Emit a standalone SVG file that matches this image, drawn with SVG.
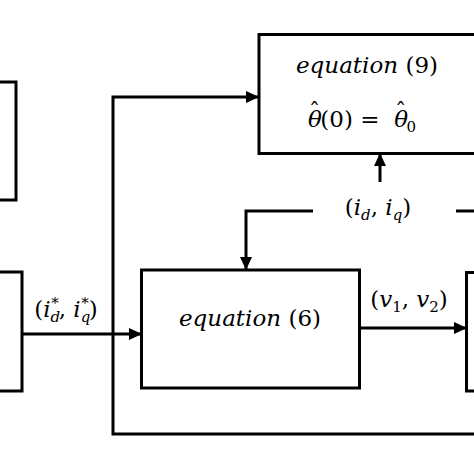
<svg xmlns="http://www.w3.org/2000/svg" width="474" height="474" viewBox="0 0 474 474">
<defs>
<marker id="ah" viewBox="0 0 13 12" markerWidth="13" markerHeight="12" refX="12" refY="6" orient="auto" markerUnits="userSpaceOnUse">
<path d="M0,0 L13,6 L0,12 z" fill="#000"/>
</marker>
</defs>
<style>
.box{fill:#fff;stroke:#000;stroke-width:3}
.ln{fill:none;stroke:#000;stroke-width:3}
.arr{marker-end:url(#ah)}
text{font-family:"DejaVu Serif","Liberation Serif",serif;font-size:23px;fill:#000}
.it{font-style:italic}
.sub{font-size:15px}
</style>
<rect width="474" height="474" fill="#fff"/>
<g id="connectors">
<path class="ln arr" d="M22,334 H141"/>
<path class="ln arr" d="M476,434 H113 V97 H258"/>
<path class="ln arr" d="M380,182 V154"/>
<path class="ln arr" d="M313,211 H246 V269"/>
<path class="ln" d="M456,211 H476"/>
<path class="ln arr" d="M359,328 H466"/>
</g>
<g id="node-left-top"><rect class="box" x="-10" y="82" width="26" height="118"/></g>
<g id="node-left-bottom"><rect class="box" x="-10" y="272" width="32" height="119"/></g>
<g id="node-eq9">
<rect class="box" x="259" y="34.5" width="230" height="119"/>
<text x="367" y="73" text-anchor="middle"><tspan class="it">equation</tspan> (9)</text>
<text x="308" y="127"><tspan class="it">θ</tspan><tspan dx="-13" dy="-8">ˆ</tspan><tspan dy="8">(0) =&#160; </tspan><tspan class="it">θ</tspan><tspan dx="-13" dy="-8">ˆ</tspan><tspan class="sub" dy="13">0</tspan></text>
</g>
<g id="node-eq6">
<rect class="box" x="141.5" y="270" width="218" height="118"/>
<text x="250" y="326" text-anchor="middle"><tspan class="it">equation</tspan> (6)</text>
</g>
<g id="node-right"><rect class="box" x="466.5" y="272.5" width="30" height="118.5"/></g>
<g id="labels">
<text x="378" y="215" text-anchor="middle">(<tspan class="it">i</tspan><tspan class="sub it" dy="5">d</tspan><tspan dy="-5">, </tspan><tspan class="it">i</tspan><tspan class="sub it" dy="5">q</tspan><tspan dy="-5">)</tspan></text>
<text x="66" y="317" text-anchor="middle">(<tspan class="it">i</tspan><tspan class="sub it" dy="5">d</tspan><tspan class="sub" dx="-9" dy="-14">*</tspan><tspan dy="9">, </tspan><tspan class="it">i</tspan><tspan class="sub it" dy="5">q</tspan><tspan class="sub" dx="-9" dy="-14">*</tspan><tspan dy="9">)</tspan></text>
<text x="409" y="307" text-anchor="middle">(<tspan class="it">v</tspan><tspan class="sub" dy="5">1</tspan><tspan dy="-5">, </tspan><tspan class="it">v</tspan><tspan class="sub" dy="5">2</tspan><tspan dy="-5">)</tspan></text>
</g>
</svg>
